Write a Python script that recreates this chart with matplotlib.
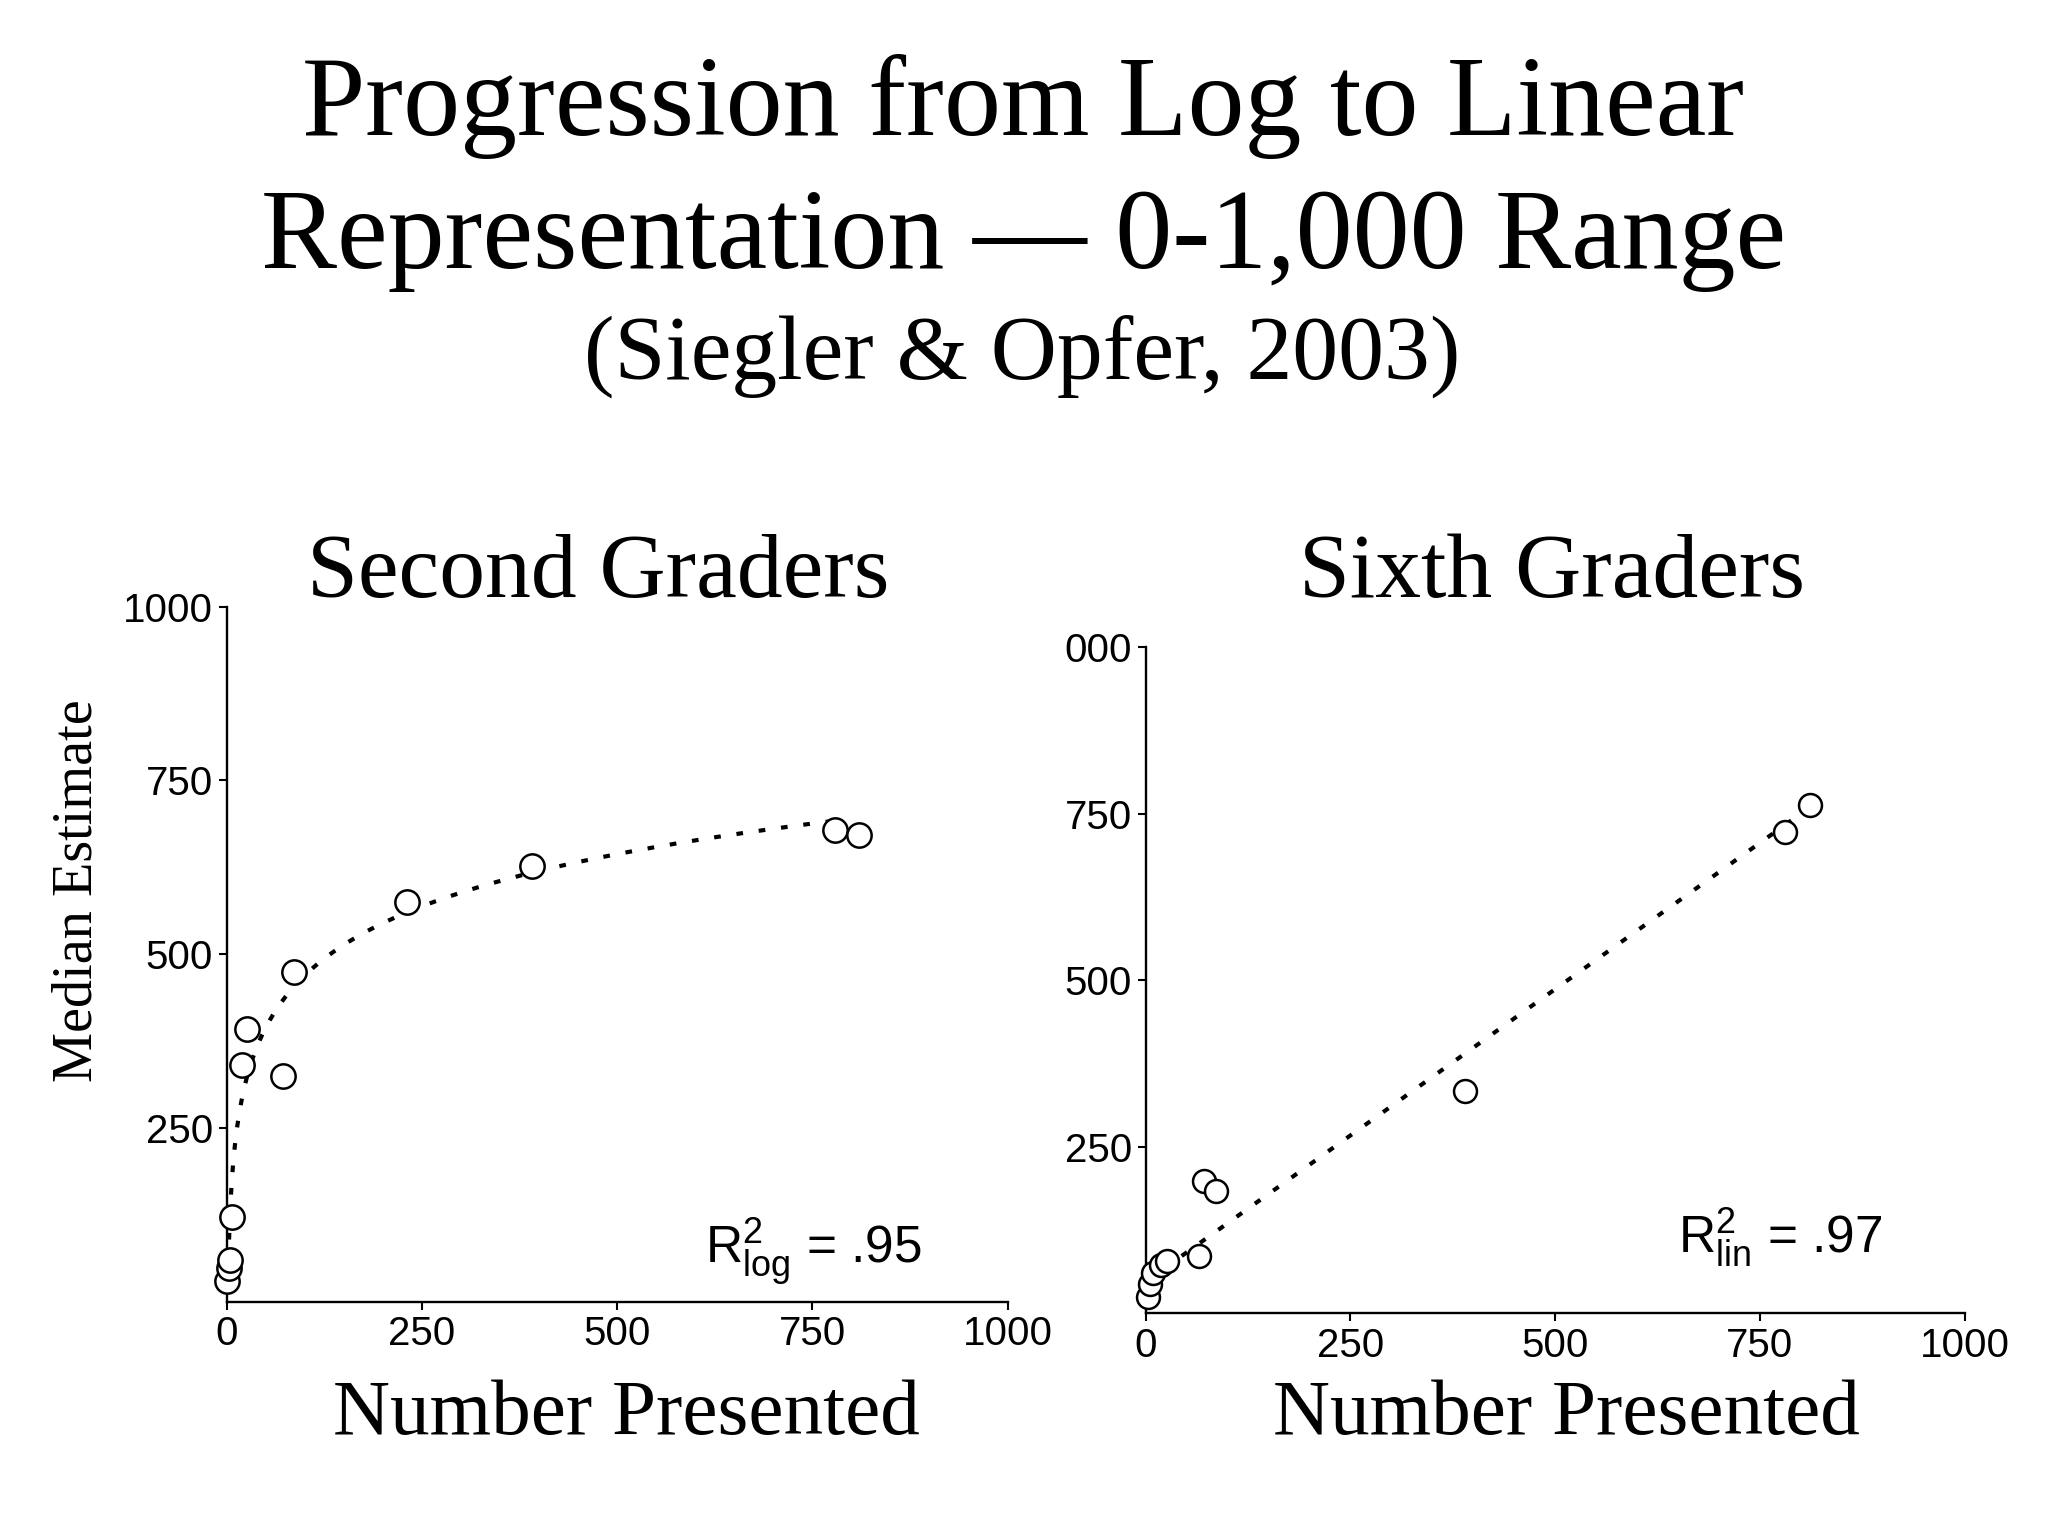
import numpy as np
import matplotlib
matplotlib.use('Agg')
import matplotlib.pyplot as plt

# Second graders (0-1000 number line), median estimates
SECOND_X = [1, 3.4, 4.2, 6.4, 19, 26, 72, 86, 231, 391, 779, 810]
SECOND_Y = [29, 48, 60, 122, 341, 392, 325, 474, 575, 627, 679, 672]

# Sixth graders
SIXTH_X = [3, 5, 9, 19, 26, 65, 71, 86, 390, 781, 811]
SIXTH_Y = [25, 44, 61, 72, 79, 86, 199, 183, 334, 722, 763]

# best-fit lines
LOG_FIT = (-29.8, 108.4)        # y = a + b*ln(x)
LOG_FIT_RANGE = (3, 779)
LIN_FIT_X = [44, 802]
LIN_FIT_Y = [86, 752]

X_TICKS = [0, 250, 500, 750, 1000]
Y_TICKS = [250, 500, 750, 1000]
Y_LABELS_LEFT = ['250', '500', '750', '1000']
Y_LABELS_RIGHT = ['250', '500', '750', '000']

SERIF = ['Liberation Serif', 'DejaVu Serif']
SANS = ['Liberation Sans', 'DejaVu Sans']

plt.rcParams['mathtext.fontset'] = 'custom'
plt.rcParams['mathtext.rm'] = 'Liberation Sans'
plt.rcParams['mathtext.it'] = 'Liberation Sans'


def style_axes(ax, ylabels):
    ax.set_xlim(0, 1000)
    ax.set_ylim(0, 1000)
    for side in ('top', 'right'):
        ax.spines[side].set_visible(False)
    for side in ('left', 'bottom'):
        ax.spines[side].set_linewidth(1.7)
    ax.set_xticks(X_TICKS)
    ax.set_xticklabels([str(t) for t in X_TICKS])
    ax.set_yticks(Y_TICKS)
    ax.set_yticklabels(ylabels)
    ax.tick_params(direction='out', length=6, width=1.5, pad=4,
                   labelsize=29)
    for lab in ax.get_xticklabels() + ax.get_yticklabels():
        lab.set_family(SANS)


def draw_points(ax, xs, ys, size):
    ax.plot(xs, ys, linestyle='none', marker='o', markersize=size,
            markerfacecolor='white', markeredgecolor='black',
            markeredgewidth=1.8, clip_on=False, zorder=5)


fig = plt.figure(figsize=(20.48, 15.36), dpi=100)

ax1 = fig.add_axes([0.1107, 0.1526, 0.3813, 0.4525])
style_axes(ax1, Y_LABELS_LEFT)
fx = np.geomspace(LOG_FIT_RANGE[0], LOG_FIT_RANGE[1], 300)
ax1.plot(fx, LOG_FIT[0] + LOG_FIT[1] * np.log(fx), color='black',
         linewidth=3.0, dashes=(1.6, 3.8), zorder=3)
draw_points(ax1, SECOND_X, SECOND_Y, 17.5)

ax2 = fig.add_axes([0.5594, 0.1450, 0.3999, 0.4336])
style_axes(ax2, Y_LABELS_RIGHT)
ax2.plot(LIN_FIT_X, LIN_FIT_Y, color='black', linewidth=3.0,
         dashes=(1.6, 3.8), zorder=3)
draw_points(ax2, SIXTH_X, SIXTH_Y, 16.5)

# headings
fig.text(0.4997, 0.9124, 'Progression from Log to Linear', ha='center',
         va='baseline', fontsize=82, family=SERIF)
fig.text(0.4997, 0.8255, 'Representation \u2014 0-1,000 Range', ha='center',
         va='baseline', fontsize=82, family=SERIF)
fig.text(0.4990, 0.7533, '(Siegler & Opfer, 2003)', ha='center',
         va='baseline', fontsize=66, family=SERIF)

fig.text(0.292, 0.6113, 'Second Graders', ha='center', va='baseline',
         fontsize=66, family=SERIF)
fig.text(0.7578, 0.6113, 'Sixth Graders', ha='center', va='baseline',
         fontsize=66, family=SERIF)

fig.text(0.306, 0.0664, 'Number Presented', ha='center', va='baseline',
         fontsize=57, family=SERIF)
fig.text(0.765, 0.0664, 'Number Presented', ha='center', va='baseline',
         fontsize=57, family=SERIF)
fig.text(0.038, 0.42, 'Median Estimate', ha='center', va='center',
         rotation=90, fontsize=40.5, family=SERIF)

fig.text(0.3442, 0.1777, r'R$^{2}_{\mathrm{log}}$ = .95', ha='left',
         va='baseline', fontsize=37, family=SANS)
fig.text(0.8193, 0.1844, r'R$^{2}_{\mathrm{lin}}$ = .97', ha='left',
         va='baseline', fontsize=37, family=SANS)

fig.savefig('out.png', dpi=100, facecolor='white')
